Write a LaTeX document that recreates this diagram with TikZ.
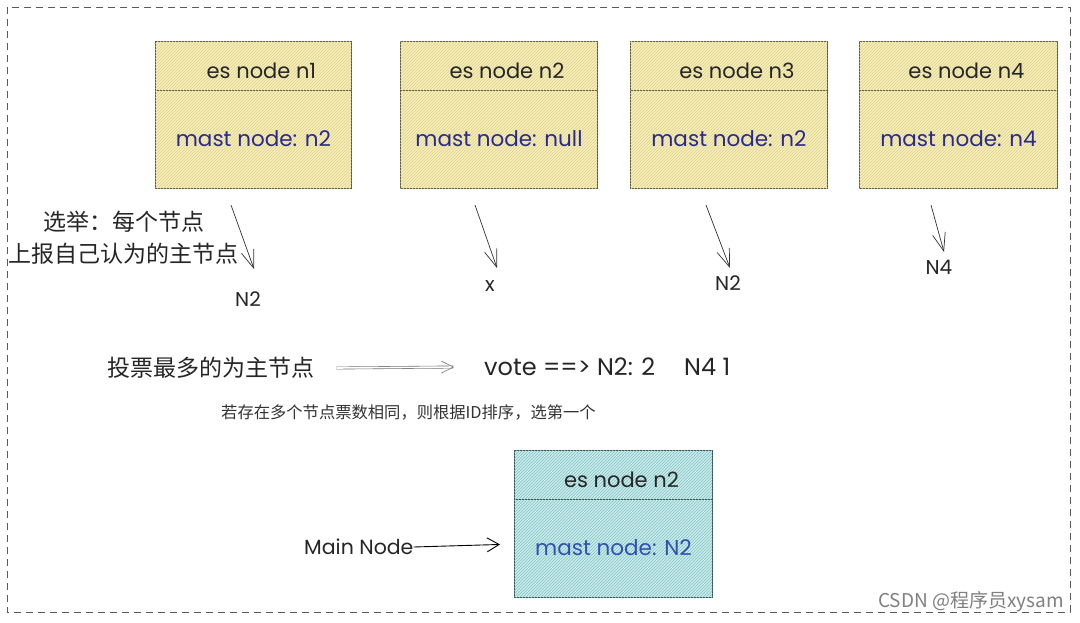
\documentclass[tikz,border=0pt]{standalone}
\usepackage{fontspec}
\setmainfont{Liberation Sans}
\newfontfamily\cjk{Noto Sans CJK SC}
\newfontfamily\hand{Poppins}
\usetikzlibrary{arrows.meta,patterns}
\definecolor{ybg}{RGB}{245,239,190}
\definecolor{yhatch}{RGB}{222,208,132}
\definecolor{ybd}{RGB}{88,88,66}
\definecolor{tbg}{RGB}{204,236,236}
\definecolor{thatch}{RGB}{128,192,192}
\definecolor{tbd}{RGB}{60,82,82}
\definecolor{inkblue}{RGB}{42,42,140}
\definecolor{brblue}{RGB}{50,80,180}
\definecolor{framegray}{RGB}{90,90,90}
\begin{document}
\begin{tikzpicture}[x=1pt,y=-1pt,
  boxbase/.style={draw, line width=0.9pt, anchor=north west, inner sep=0pt},
  ybox/.style={boxbase, draw=ybd, fill=ybg, postaction={pattern=north east lines, pattern color=yhatch}},
  tbox/.style={boxbase, draw=tbd, fill=tbg, postaction={pattern=north east lines, pattern color=thatch}},
  hdr/.style={minimum height=49pt, text height=25pt, text depth=0pt, font=\hand\fontsize{21}{21}\selectfont, text=black!85},
  bdy/.style={minimum height=98pt, font=\hand\fontsize{21.5}{21.5}\selectfont, text=inkblue},
  lbl/.style={font=\hand\fontsize{20}{20}\selectfont, text=black!85},
  cjktxt/.style={font=\cjk\fontsize{23}{32}\selectfont, text=black!85},
  arr/.style={line width=0.7pt, draw=black!80, -{Straight Barb[length=18pt,width=13pt]}},
  frame/.style={draw=framegray, line width=0.7pt, dash pattern=on 7pt off 5pt}
]
\useasboundingbox (0,0) rectangle (1080,622);
\fill[white] (0,0) rectangle (1080,622);
\draw[frame] (7,7) rectangle (1070,612);

% top boxes
\node[ybox, hdr, minimum width=196pt] (n1h) at (155,41) {\hspace*{16pt}es node n1};
\node[ybox, bdy, minimum width=196pt] (n1b) at (155,90) {\raisebox{1pt}{mast node: n2}};
\node[ybox, hdr, minimum width=197pt] (n2h) at (400,41) {\hspace*{16pt}es node n2};
\node[ybox, bdy, minimum width=197pt] (n2b) at (400,90) {\raisebox{1pt}{mast node: null}};
\node[ybox, hdr, minimum width=197pt] (n3h) at (630,41) {\hspace*{16pt}es node n3};
\node[ybox, bdy, minimum width=197pt] (n3b) at (630,90) {\raisebox{1pt}{mast node: n2}};
\node[ybox, hdr, minimum width=198pt] (n4h) at (859,41) {\hspace*{16pt}es node n4};
\node[ybox, bdy, minimum width=198pt] (n4b) at (859,90) {\raisebox{1pt}{mast node: n4}};

% report arrows
\coordinate (a1s) at (231,205);
\coordinate (a1e) at (254,269);
\coordinate (a2s) at (475,205);
\coordinate (a2e) at (497,268);
\coordinate (a3s) at (706,205);
\coordinate (a3e) at (730,268);
\coordinate (a4s) at (931,205);
\coordinate (a4e) at (944,252);
\draw[arr] (a1s) -- (a1e);
\draw[arr] (a2s) -- (a2e);
\draw[arr] (a3s) -- (a3e);
\draw[arr] (a4s) -- (a4e);
\node[lbl] (r1) at (248,299) {N2};
\node[lbl] (r2) at (490,286) {x};
\node[lbl] (r3) at (728,283) {N2};
\node[lbl] (r4) at (939,267) {N4};

\node[cjktxt, align=center] (elect) at (124,238) {选举：每个节点\\上报自己认为的主节点};

% vote line
\node[cjktxt, anchor=west, inner sep=0pt] (most) at (107,368) {投票最多的为主节点};
\node[font=\hand\fontsize{24}{24}\selectfont, anchor=west, inner sep=0pt, text=black!85] (vote) at (484,367) {vote ==> N2: 2\hspace{29pt}N4 1};
\draw[draw=black!55, line width=0.6pt, double=white, double distance=1.6pt, -{Straight Barb[length=12pt,width=12pt]}] ([xshift=22pt]most.east) -- ([xshift=-30pt]vote.west);
\node[font=\cjk\fontsize{16.3}{16.3}\selectfont, anchor=west, inner sep=0pt, text=black!80] (tie) at (221,412) {若存在多个节点票数相同，则根据ID排序，选第一个};

% main node
\node[tbox, hdr, minimum width=198pt] (mh) at (514,450) {\hspace*{16pt}es node n2};
\node[tbox, bdy, minimum width=198pt, text=brblue] (mb) at (514,499) {\raisebox{1pt}{mast node: N2}};
\node[lbl, font=\hand\fontsize{20.5}{20.5}\selectfont, anchor=west, inner sep=0pt] (main) at (304,547) {Main Node};
\draw[line width=0.9pt, draw=black, -{Straight Barb[length=12pt,width=14pt]}] (main.east) -- ([xshift=-14pt,yshift=4pt]mb.west);

% watermark
\node[font=\cjk\fontsize{19}{19}\selectfont, text=black!50, anchor=west, inner sep=0pt] (wm) at (878,602) {CSDN @程序员xysam};
\end{tikzpicture}
\end{document}
